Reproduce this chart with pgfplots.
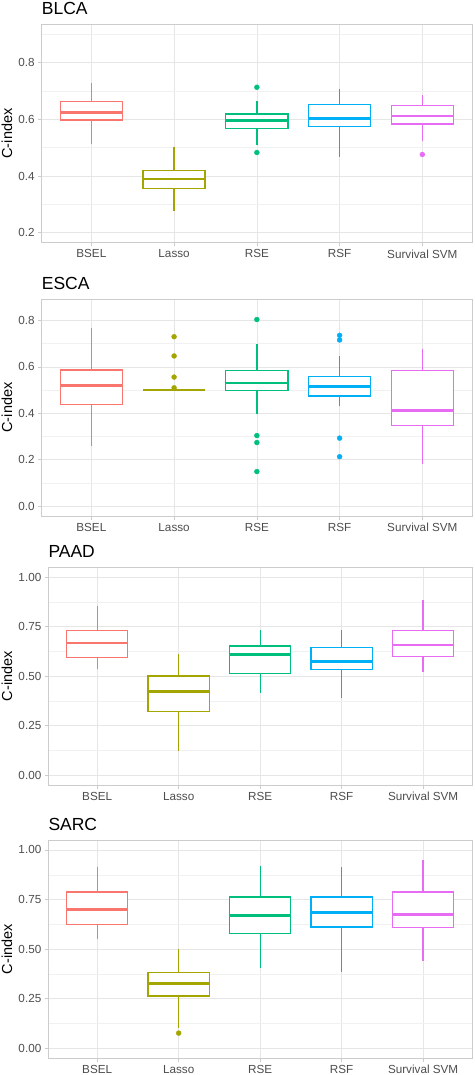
\documentclass[border=0pt]{standalone}
\usepackage{fontspec}
\setmainfont{Liberation Sans}
\usepackage{pgfplots}
\pgfplotsset{compat=1.18}
\usepgfplotslibrary{statistics}

\definecolor{cBSEL}{HTML}{F8766D}
\definecolor{cLasso}{HTML}{A3A500}
\definecolor{cRSE}{HTML}{00BF7D}
\definecolor{cRSF}{HTML}{00B0F6}
\definecolor{cSVM}{HTML}{E76BF3}
\definecolor{gridmaj}{HTML}{E6E6E6}
\definecolor{gridmin}{HTML}{F1F1F1}
\definecolor{framec}{HTML}{CCCCCC}
\definecolor{ticktext}{HTML}{4D4D4D}

\pgfplotsset{
  panel/.style={
    scale only axis, anchor=south west,
    xmin=0.4, xmax=5.6, xtick={1,2,3,4,5},
    xticklabels={BSEL,Lasso,RSE,RSF,Survival SVM},
    tick pos=left, tick align=outside,
    major tick length=3.5pt, minor tick length=0pt,
    tick style={color=framec, line width=0.6pt},
    axis line style={draw=framec, line width=0.8pt},
    xmajorgrids, ymajorgrids, yminorgrids,
    major grid style={color=gridmaj, line width=0.6pt},
    minor grid style={color=gridmin, line width=0.4pt},
    tick label style={font=\fontsize{11.7}{13}\selectfont, text=ticktext},
    ylabel={C-index},
    ylabel style={font=\fontsize{14.5}{16}\selectfont,
      at={(axis description cs:0,0.5)}, anchor=center},
    title style={at={(0,1)}, anchor=base west, yshift=4pt,
      font=\fontsize{17.5}{20}\selectfont, inner sep=0pt},
    boxplot/draw direction=y,
    boxplot/box extend=0.75,
    boxplot/whisker extend=0,
    boxplot/every box/.style={line width=1.3pt},
    boxplot/every whisker/.style={line width=1.3pt},
    boxplot/every median/.style={line width=2.6pt},
    /pgf/number format/assume math mode=true,
  },
  % one box: position, lower whisker, Q1, median, Q3, upper whisker, colour
  bx/.style n args={7}{
    boxplot prepared={draw position=#1, lower whisker=#2,
      lower quartile=#3, median=#4, upper quartile=#5, upper whisker=#6},
    boxplot/draw direction=y,
    draw=#7, fill=white, line width=1.3pt, solid,
    mark=*, mark size=2.5pt,
    mark options={solid, draw=#7, fill=#7, line width=0.3pt},
  },
}

\begin{document}
\begin{tikzpicture}
\useasboundingbox (0pt,0pt) rectangle (474pt,-1075pt);

% ---------------- BLCA ----------------
\begin{axis}[panel, at={(41.7pt,-242.7pt)}, width=430.3pt, height=218.4pt,
  title={BLCA}, ymin=0.165, ymax=0.935,
  ytick={0.2,0.4,0.6,0.8}, yticklabels={0.2,0.4,0.6,0.8},
  minor ytick={0.3,0.5,0.7,0.9},
  ylabel style={yshift=34.7pt}]
\addplot[bx={1}{0.513}{0.598}{0.624}{0.663}{0.727}{cBSEL}] coordinates {};
\addplot[bx={2}{0.276}{0.357}{0.390}{0.419}{0.504}{cLasso}] coordinates {};
\addplot[bx={3}{0.510}{0.568}{0.596}{0.619}{0.666}{cRSE}]
  table[row sep=\\, y index=0] {y\\ 0.713\\ 0.483\\};
\addplot[bx={4}{0.467}{0.574}{0.603}{0.653}{0.706}{cRSF}] coordinates {};
\addplot[bx={5}{0.522}{0.584}{0.611}{0.649}{0.684}{cSVM}]
  table[row sep=\\, y index=0] {y\\ 0.476\\};
\end{axis}

% ---------------- ESCA ----------------
\begin{axis}[panel, at={(41.7pt,-516pt)}, width=430.3pt, height=217pt,
  title={ESCA}, ymin=-0.0425, ymax=0.8925,
  ytick={0,0.2,0.4,0.6,0.8}, yticklabels={0.0,0.2,0.4,0.6,0.8},
  minor ytick={0.1,0.3,0.5,0.7},
  ylabel style={yshift=34.7pt}]
\addplot[bx={1}{0.257}{0.438}{0.520}{0.587}{0.769}{cBSEL}] coordinates {};
\addplot[bx={2}{0.500}{0.500}{0.500}{0.500}{0.500}{cLasso}]
  table[row sep=\\, y index=0] {y\\ 0.730\\ 0.647\\ 0.556\\ 0.510\\};
\addplot[bx={3}{0.399}{0.499}{0.531}{0.584}{0.698}{cRSE}]
  table[row sep=\\, y index=0] {y\\ 0.804\\ 0.304\\ 0.274\\ 0.149\\};
\addplot[bx={4}{0.433}{0.475}{0.516}{0.558}{0.648}{cRSF}]
  table[row sep=\\, y index=0] {y\\ 0.736\\ 0.716\\ 0.293\\ 0.213\\};
\addplot[bx={5}{0.182}{0.348}{0.413}{0.584}{0.676}{cSVM}] coordinates {};
\end{axis}

% ---------------- PAAD ----------------
\begin{axis}[panel, at={(48.3pt,-785pt)}, width=423.7pt, height=217.7pt,
  title={PAAD}, ymin=-0.05, ymax=1.05,
  ytick={0,0.25,0.5,0.75,1}, yticklabels={0.00,0.25,0.50,0.75,1.00},
  minor ytick={0.125,0.375,0.625,0.875},
  ylabel style={yshift=41.3pt}]
\addplot[bx={1}{0.536}{0.595}{0.668}{0.729}{0.853}{cBSEL}] coordinates {};
\addplot[bx={2}{0.121}{0.320}{0.422}{0.501}{0.610}{cLasso}] coordinates {};
\addplot[bx={3}{0.417}{0.514}{0.608}{0.653}{0.735}{cRSE}] coordinates {};
\addplot[bx={4}{0.389}{0.534}{0.573}{0.645}{0.735}{cRSF}] coordinates {};
\addplot[bx={5}{0.519}{0.600}{0.658}{0.730}{0.886}{cSVM}] coordinates {};
\end{axis}

% ---------------- SARC ----------------
\begin{axis}[panel, at={(48.3pt,-1058.3pt)}, width=423.7pt, height=218.3pt,
  title={SARC}, ymin=-0.05, ymax=1.05,
  ytick={0,0.25,0.5,0.75,1}, yticklabels={0.00,0.25,0.50,0.75,1.00},
  minor ytick={0.125,0.375,0.625,0.875},
  ylabel style={yshift=41.3pt}]
\addplot[bx={1}{0.551}{0.625}{0.701}{0.788}{0.913}{cBSEL}] coordinates {};
\addplot[bx={2}{0.104}{0.264}{0.326}{0.383}{0.499}{cLasso}]
  table[row sep=\\, y index=0] {y\\ 0.077\\};
\addplot[bx={3}{0.407}{0.578}{0.669}{0.763}{0.919}{cRSE}] coordinates {};
\addplot[bx={4}{0.387}{0.612}{0.686}{0.763}{0.914}{cRSF}] coordinates {};
\addplot[bx={5}{0.440}{0.608}{0.676}{0.788}{0.950}{cSVM}] coordinates {};
\end{axis}
\end{tikzpicture}
\end{document}
